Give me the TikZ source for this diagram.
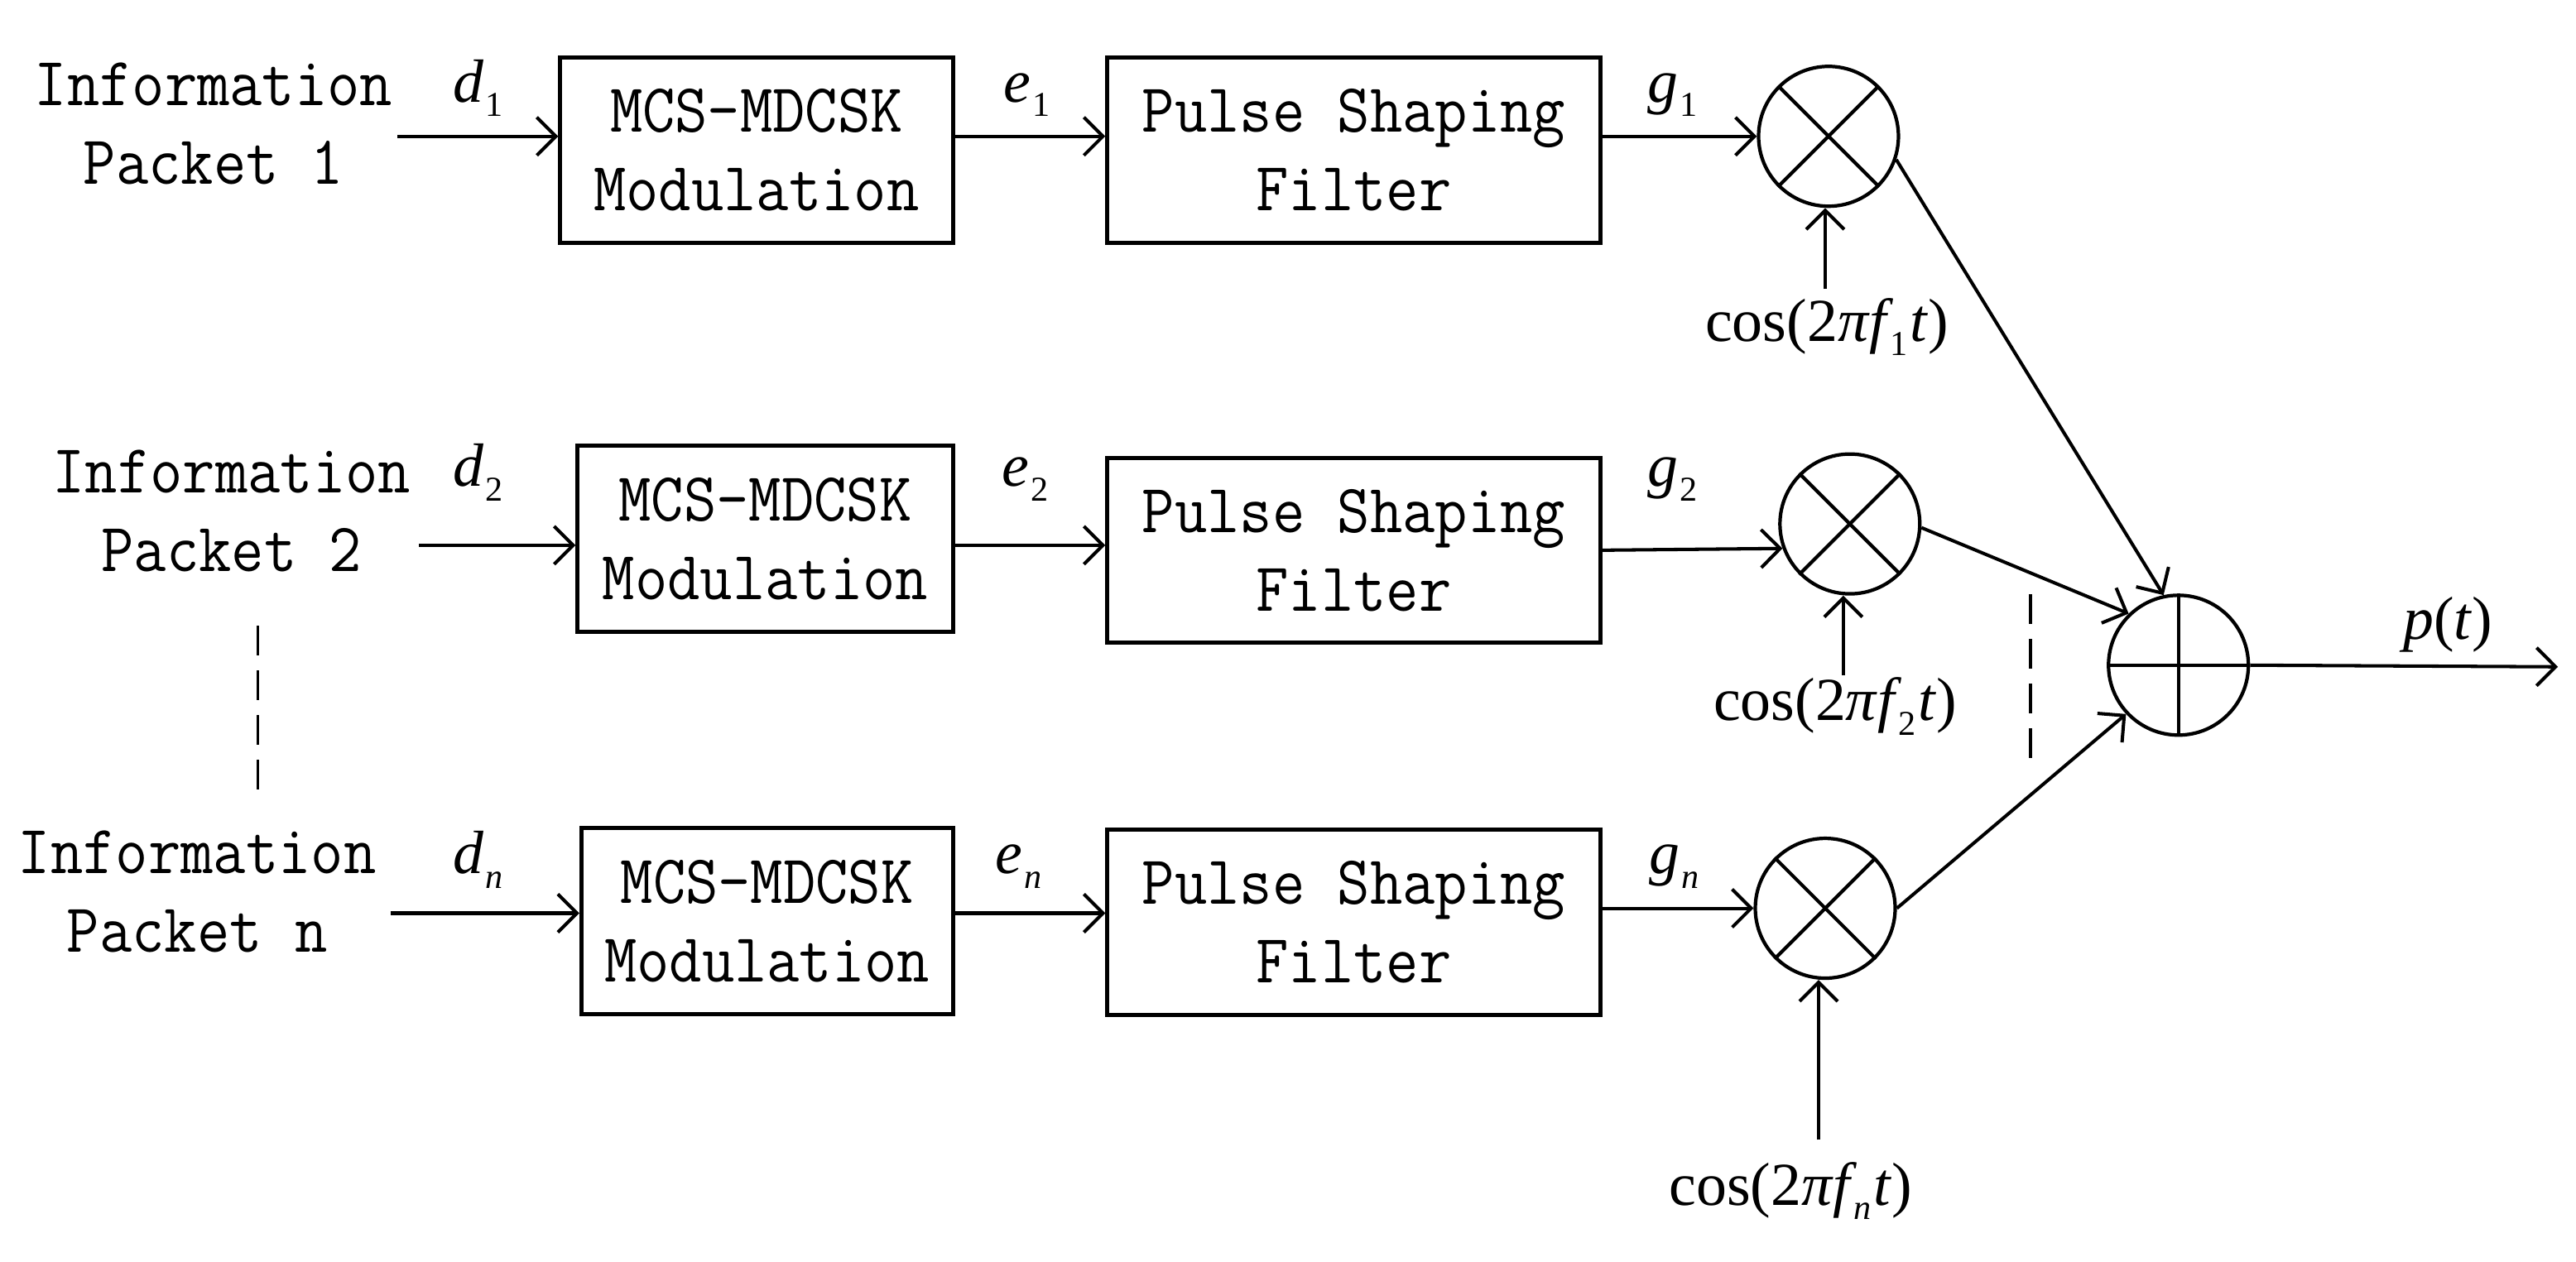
\documentclass[tikz,border=0pt]{standalone}
\usepackage{fontspec}
\setmainfont{Liberation Serif}
\newfontfamily\boxfont[FakeStretch=0.913]{Latin Modern Mono}
\usetikzlibrary{arrows.meta,calc}
\newcommand\sublab[2]{\textit{#1}\kern0.02em\raisebox{-5pt}{\fontsize{12}{12}\selectfont #2}}
\newcommand\cosl[1]{cos(2\textit{π}\textit{f}\kern-0.06em\raisebox{-5pt}{\fontsize{12}{12}\selectfont #1}\kern0.04em\textit{t})}
\begin{document}
\begin{tikzpicture}[x=0.01985cm,y=-0.01985cm,
  box/.style={draw,line width=1.4pt,align=center,font=\boxfont\fontsize{23.8}{27}\selectfont,inner sep=0pt},
  info/.style={align=center,font=\boxfont\fontsize{23.8}{27}\selectfont,inner sep=0pt},
  lab/.style={font=\fontsize{21}{21}\selectfont,inner sep=0pt,anchor=base},
  coslab/.style={font=\fontsize{21}{21}\selectfont,inner sep=0pt},
  mult/.style={draw,circle,line width=1.2pt,minimum size=1.69cm,inner sep=0pt},
  cross/.style={line width=1.2pt},
  arr/.style={line width=1.15pt,-{Straight Barb[length=0.23cm,width=0.46cm]}},
  dline/.style={line width=1pt,dash pattern=on 0.36cm off 0.18cm}]
\useasboundingbox (0,0) rectangle (1568,768);
% info sources
\node[info] (info1) at (130,75.5) {Information\\Packet 1};
\node[info] (info2) at (141,311) {Information\\Packet 2};
\node[info] (info3) at (120,543) {Information\\Packet n};
% modulation boxes
\node[box,minimum width=4.744cm,minimum height=2.243cm] (mod1) at (460.5,91.5) {MCS-MDCSK\\Modulation};
\node[box,minimum width=4.536cm,minimum height=2.243cm] (mod2) at (465.8,328) {MCS-MDCSK\\Modulation};
\node[box,minimum width=4.49cm,minimum height=2.255cm] (mod3) at (466.9,560.8) {MCS-MDCSK\\Modulation};
% filters
\node[box,minimum width=5.955cm,minimum height=2.243cm] (psf1) at (824,91.5) {Pulse Shaping\\Filter};
\node[box,minimum width=5.955cm,minimum height=2.235cm] (psf2) at (824,335) {Pulse Shaping\\Filter};
\node[box,minimum width=5.955cm,minimum height=2.245cm] (psf3) at (824,561.5) {Pulse Shaping\\Filter};
% multipliers and adder
\node[mult] (m1) at (1113,83) {};
\node[mult] (m2) at (1126,319) {};
\node[mult] (m3) at (1111,553) {};
\node[mult] (add) at (1326,405) {};
\foreach \m in {m1,m2,m3}
  \draw[cross] (\m.north west) -- (\m.south east) (\m.north east) -- (\m.south west);
\draw[cross] (add.north) -- (add.south) (add.west) -- (add.east);
% labels
\node[lab] (d1) at (291,62) {\sublab{d}{1}};
\node[lab] (e1) at (625,62) {\sublab{e}{1}};
\node[lab] (g1) at (1018,62) {\sublab{g}{1}};
\node[lab] (d2) at (291,296) {\sublab{d}{2}};
\node[lab] (e2) at (624,296) {\sublab{e}{2}};
\node[lab] (g2) at (1018,296) {\sublab{g}{2}};
\node[lab] (dn) at (291,532) {\sublab{d}{\textit{n}}};
\node[lab] (en) at (620,532) {\sublab{e}{\textit{n}}};
\node[lab] (gn) at (1019,532) {\sublab{g}{\textit{n}}};
\node[lab] (pt) at (1490,389) {\textit{p}(\textit{t})};
\node[coslab] (c1) at (1112,199) {\cosl{1}};
\node[coslab] (c2) at (1117,430) {\cosl{2}};
\node[coslab] (c3) at (1090,725) {\cosl{\textit{n}}};
% coordinates
\coordinate (s1) at (242,83);
\coordinate (s2) at (255,332);
\coordinate (s3) at (238,556);
\coordinate (v1) at (1111,176);
\coordinate (v2) at (1122,411);
\coordinate (v3) at (1107,694);
\coordinate (out) at (1557,406);
\coordinate (dla) at (157,381);
\coordinate (dlb) at (157,486);
\coordinate (dra) at (1236,362);
\coordinate (drb) at (1236,470);
% connectors
\draw[arr] (s1) -- (s1 -| mod1.west);
\draw[arr] (mod1.east |- s1) -- (psf1.west |- s1);
\draw[arr] (psf1.east |- s1) -- (m1.west);
\draw[arr] (s2) -- (s2 -| mod2.west);
\draw[arr] (mod2.east |- s2) -- (psf2.west |- s2);
\draw[arr] (psf2.east) -- (m2.200);
\draw[arr] (s3) -- (s3 -| mod3.west);
\draw[arr] (mod3.east |- s3) -- (psf3.west |- s3);
\draw[arr] (psf3.east |- m3) -- (m3.west);
\draw[arr] (v1) -- (v1 |- m1.south);
\draw[arr] (v2) -- (v2 |- m2.south);
\draw[arr] (v3) -- (v3 |- m3.south);
\draw[arr] (m1.-19) -- (add.102);
\draw[arr] (m2.-3) -- (add.134);
\draw[arr] (m3.east) -- (add.223);
\draw[arr] (add.east) -- (out);
\draw[dline] (dla) -- (dlb);
\draw[dline] (dra) -- (drb);
\end{tikzpicture}
\end{document}
